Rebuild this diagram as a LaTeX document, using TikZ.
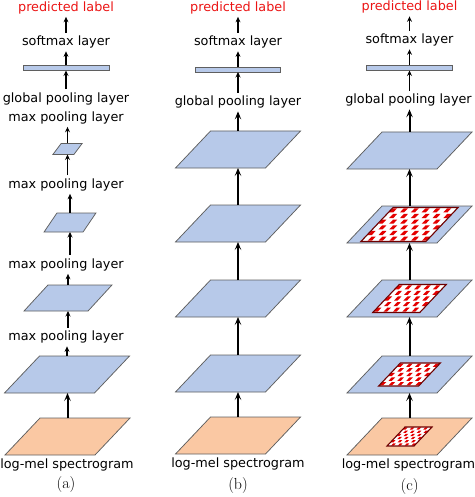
\documentclass[tikz,border=0pt]{standalone}
\usepackage{fontspec}
\newfontfamily\dv{DejaVu Sans}
\usetikzlibrary{arrows.meta}
\definecolor{layerblue}{RGB}{183,201,233}
\definecolor{layerorange}{RGB}{250,200,163}
\definecolor{edgegray}{RGB}{95,95,95}
\definecolor{labelred}{RGB}{235,20,20}
\definecolor{chkred}{RGB}{228,0,0}
\definecolor{chkborder}{RGB}{110,0,0}
\tikzset{
  lbl/.style={font=\dv\fontsize{12.8}{14}\selectfont, inner sep=3pt},
  predlbl/.style={lbl, text=labelred},
  captxt/.style={font=\fontsize{16}{18}\selectfont, inner sep=0pt},
  layer/.style={draw=edgegray, line width=0.75pt, fill=layerblue, inner sep=0pt, outer sep=0pt,
    minimum width=90pt, minimum height=37pt, xslant=#1},
  layer/.default=0.946,
  spec/.style={layer, fill=layerorange},
  barbox/.style={draw=edgegray, line width=0.75pt, fill=layerblue, inner sep=0pt, outer sep=0pt,
    minimum width=86pt, minimum height=5pt},
  arr/.style={-{Stealth[length=5.5pt,width=5pt,inset=2pt]}, line width=1.1pt},
  tarr/.style={-{Stealth[length=8pt,width=6.5pt,inset=3.5pt]}, line width=2pt},
}
\newcommand{\chk}[6]{%
  \begin{scope}[shift={(#1.center)}, xslant=#6]
    \fill[white] ({-#2/2},{-#3/2}) -- ({#2/2},{-#3/2}) -- ({#2/2},{#3/2}) -- ({-#2/2},{#3/2}) -- cycle;
    \foreach \i in {1,...,#4}{\foreach \j in {1,...,#5}{%
      \pgfmathtruncatemacro\chkpar{mod(\i+\j,2)}%
      \ifnum\chkpar=0
        \pgfmathsetmacro\xa{-#2/2+(\i-1)*#2/#4+0.12*#2/#4}%
        \pgfmathsetmacro\xb{\xa+0.76*#2/#4}%
        \pgfmathsetmacro\ya{-#3/2+(\j-1)*#3/#5+0.14*#3/#5}%
        \pgfmathsetmacro\yb{\ya+0.72*#3/#5}%
        \fill[chkred] (\xa,\ya) -- (\xb,\ya) -- (\xb,\yb) -- (\xa,\yb) -- cycle;
      \fi}}
    \draw[chkborder, line width=1.1pt] ({-#2/2},{-#3/2}) -- ({#2/2},{-#3/2}) -- ({#2/2},{#3/2}) -- ({-#2/2},{#3/2}) -- cycle;
  \end{scope}}
\begin{document}
\begin{tikzpicture}[x=1pt, y=-1pt]
\useasboundingbox (0,0) rectangle (474,497);
% ---------------- column (a)
\node[predlbl] (aP) at (66,7.5) {predicted label};
\node[lbl] (aS) at (66,42) {softmax layer};
\node[barbox] (aBar) at (66,68) {};
\node[lbl] (aG) at (66,98.5) {global pooling layer};
\node[lbl] (aM1) at (66,117.5) {max pooling layer};
\node[layer=0.75, minimum width=21pt, minimum height=11pt] (a1) at (67.5,149) {};
\node[lbl] (aM2) at (66,184.5) {max pooling layer};
\node[layer=0.68, minimum width=39pt, minimum height=19pt] (a2) at (70,222.5) {};
\node[lbl] (aM3) at (66,264.5) {max pooling layer};
\node[layer=0.92, minimum width=64pt, minimum height=26pt] (a3) at (68,298) {};
\node[lbl] (aM4) at (66,337) {max pooling layer};
\node[layer] (a4) at (67,374.5) {};
\node[spec] (a0) at (67.5,436.5) {};
\node[lbl] (aL) at (67,465) {log-mel spectrogram};
\node[captxt] (aC) at (66,485) {(a)};
\draw[arr] (aS) -- (aP);
\draw[arr] (aBar) -- (aS);
\draw[arr] (aG) -- (aBar);
\draw[arr] (a1.center |- a1.north) -- (a1.center |- aM1.south);
\draw[arr] (a1.center |- aM2.north) -- (a1.center |- a1.south);
\draw[arr] (a2.center |- a2.north) -- (a2.center |- aM2.south);
\draw[arr] (a2.center |- aM3.north) -- (a2.center |- a2.south);
\draw[arr] (a3.center |- a3.north) -- (a3.center |- aM3.south);
\draw[arr] (a3.center |- aM4.north) -- (a3.center |- a3.south);
\draw[arr] (a4.center |- a4.north) -- (a4.center |- aM4.south);
\draw[tarr] (a0.center |- a0.north) -- (a0.center |- a4.south);
% ---------------- column (b)
\node[predlbl] (bP) at (238,7.5) {predicted label};
\node[lbl] (bS) at (238,42) {softmax layer};
\node[barbox, minimum width=85pt] (bBar) at (238,69.5) {};
\node[lbl] (bG) at (238,102) {global pooling layer};
\node[layer] (b4) at (238,149.5) {};
\node[layer] (b3) at (238,223.5) {};
\node[layer] (b2) at (238,298.5) {};
\node[layer] (b1) at (238,373.5) {};
\node[spec] (b0) at (238,435.5) {};
\node[lbl] (bL) at (238,464) {log-mel spectrogram};
\node[captxt] (bC) at (238,486) {(b)};
\draw[arr] (bS) -- (bP);
\draw[arr] (bBar) -- (bS);
\draw[arr] (bG) -- (bBar);
\draw[tarr] (b4.center |- b4.north) -- (bG);
\draw[tarr] (b3.center |- b3.north) -- (b4.center |- b4.south);
\draw[tarr] (b2.center |- b2.north) -- (b3.center |- b3.south);
\draw[tarr] (b1.center |- b1.north) -- (b2.center |- b2.south);
\draw[tarr] (b0.center |- b0.north) -- (b1.center |- b1.south);
% ---------------- column (c)
\node[predlbl] (cP) at (409.5,7) {predicted label};
\node[lbl] (cS) at (409.5,40) {softmax layer};
\node[barbox] (cBar) at (409.5,68) {};
\node[lbl] (cG) at (408.5,100) {global pooling layer};
\node[layer] (c4) at (409.5,150.5) {};
\node[layer] (c3) at (409.5,224.5) {};
\node[layer] (c2) at (409.5,298.5) {};
\node[layer] (c1) at (409.5,374.5) {};
\node[spec] (c0) at (409.5,436.5) {};
\node[lbl] (cL) at (408.5,465) {log-mel spectrogram};
\node[captxt] (cC) at (409.5,487) {(c)};
\chk{c3}{65}{34}{12}{6}{0.946}
\chk{c2}{47}{28}{10}{5}{0.946}
\chk{c1}{40}{23}{9}{5}{0.946}
\chk{c0}{27}{19}{8}{6}{0.946}
\draw[arr] (cS) -- (cP);
\draw[arr] (cBar) -- (cS);
\draw[arr] (cBar.center |- cG.north) -- (cBar);
\draw[tarr] (c4.center |- c4.north) -- (c4.center |- cG.south);
\draw[tarr] (c3.center |- c3.north) -- (c4.center |- c4.south);
\draw[tarr] (c2.center |- c2.north) -- (c3.center |- c3.south);
\draw[tarr] (c1.center |- c1.north) -- (c2.center |- c2.south);
\draw[tarr] (c0.center |- c0.north) -- (c1.center |- c1.south);
\end{tikzpicture}
\end{document}
